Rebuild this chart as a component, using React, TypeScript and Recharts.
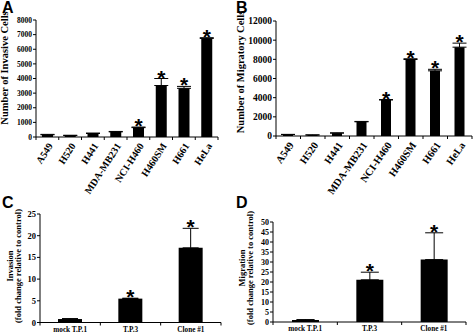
import React from 'react';
import { BarChart, Bar, XAxis, YAxis, ErrorBar, LabelList } from 'recharts';

// ---- data ----
const cellLines = ['A549', 'H520', 'H441', 'MDA-MB231', 'NCI-H460', 'H460SM', 'H661', 'HeLa'];
const invasiveCells = [150, 100, 240, 350, 640, 3520, 3330, 6740];
const invasiveErr = [30, 20, 30, 30, 40, 480, 130, 50];
const invasiveSig = [false, false, false, false, true, true, true, true];
const invasiveTicks = [0, 1000, 2000, 3000, 4000, 5000, 6000, 7000, 8000];

const migratoryCells = [150, 100, 300, 1480, 3760, 7980, 6800, 9270];
const migratoryErr = [20, 20, 30, 40, 40, 80, 160, 420];
const migratorySig = [false, false, false, false, true, true, true, true];
const migratoryTicks = [0, 2000, 4000, 6000, 8000, 10000, 12000];

const clones = ['mock T.P.1', 'T.P.3', 'Clone #1'];
const invasionFold = [0.8, 5.5, 17.2];
const invasionErr = [0.1, 0.1, 4.5];
const invasionTicks = [0, 5, 10, 15, 20, 25];
const migrationFold = [1.0, 21.1, 31.2];
const migrationErr = [0.2, 3.8, 13.4];
const migrationTicks = [0, 5, 10, 15, 20, 25, 30, 35, 40, 45, 50];
const cloneSig = [false, true, true];

const serif = '"Liberation Serif", "Times New Roman", serif';
const sans = '"Liberation Sans", Arial, sans-serif';

function build(cats: string[], vals: number[], errs: number[]) {
  return cats.map((c, i) => ({ name: c, value: vals[i], err: [0, errs[i]] }));
}

function makeStar(vals: number[], errs: number[], sig: boolean[], fontSize: number) {
  return (p: any) => {
    const idx = p.index;
    if (!sig[idx]) return null;
    const x = Number(p.x), y = Number(p.y), w = Number(p.width), h = Number(p.height);
    const ppu = h / vals[idx];
    const top = y - errs[idx] * ppu;
    return (
      <text x={x + w / 2} y={top + 6} textAnchor="middle" fontFamily={sans} fontWeight="bold" fontSize={fontSize} fill="#000">*</text>
    );
  };
}

function halfBand(p: any, count: number) {
  const w = Number(p.width);
  if (w > 0) return w / count / 2;
  return p.payload && p.payload.offset ? Number(p.payload.offset) : 0;
}

function makeRotTick(fontSize: number, angle: number, count: number) {
  return (p: any) => {
    const x = Number(p.x), y = Number(p.y);
    const off = halfBand(p, count);
    const idx = p.index;
    return (
      <g>
        <line x1={x - off} x2={x - off} y1={y} y2={y + 3} stroke="#000" />
        {idx === count - 1 ? <line x1={x + off} x2={x + off} y1={y} y2={y + 3} stroke="#000" /> : null}
        <text x={0} y={0} dy="0.35em" transform={`translate(${x + 3},${y + 7}) rotate(${angle})`} textAnchor="end" fontFamily={serif} fontWeight="bold" fontSize={fontSize} fill="#000">{p.payload.value}</text>
      </g>
    );
  };
}

function makeFlatTick(fontSize: number, count: number) {
  return (p: any) => {
    const x = Number(p.x), y = Number(p.y);
    const off = halfBand(p, count);
    const idx = p.index;
    return (
      <g>
        <line x1={x - off} x2={x - off} y1={y} y2={y + 3} stroke="#000" />
        {idx === count - 1 ? <line x1={x + off} x2={x + off} y1={y} y2={y + 3} stroke="#000" /> : null}
        <text x={0} y={0} transform={`translate(${x},${y + 9}) scale(0.9,1)`} textAnchor="middle" fontFamily={serif} fontWeight="bold" fontSize={fontSize} fill="#000">{p.payload.value}</text>
      </g>
    );
  };
}

type PanelProps = {
  left: number; top: number; width: number; height: number;
  margin: { top: number; right: number; left: number; bottom: number };
  yWidth: number; xHeight: number;
  cats: string[]; vals: number[]; errs: number[]; sig: boolean[];
  ticks: number[]; yFont: number; barSize: number; capWidth: number;
  tick: any; starSize: number;
};

function Panel(pp: PanelProps) {
  const data = build(pp.cats, pp.vals, pp.errs);
  const max = pp.ticks[pp.ticks.length - 1];
  return (
    <div style={{ position: 'absolute', left: pp.left, top: pp.top }}>
      <BarChart width={pp.width} height={pp.height} data={data} margin={pp.margin} barSize={pp.barSize}>
        <XAxis xAxisId="main" dataKey="name" height={pp.xHeight} interval={0} tickLine={false} tickSize={0} tickMargin={0}
          axisLine={{ stroke: '#000' }} tick={pp.tick} />
        <XAxis xAxisId="top" orientation="top" dataKey="name" height={0} tick={false} tickLine={false} axisLine={{ stroke: '#808080' }} />
        <YAxis yAxisId="left" width={pp.yWidth} domain={[0, max]} ticks={pp.ticks} interval={0} tickSize={3} tickMargin={1}
          axisLine={{ stroke: '#000' }} tickLine={{ stroke: '#000' }}
          tick={{ fontSize: pp.yFont, fontFamily: serif, fontWeight: 'bold', fill: '#000' }} />
        <YAxis yAxisId="right" orientation="right" width={0} domain={[0, max]} tick={false} tickLine={false} axisLine={{ stroke: '#808080' }} />
        <Bar xAxisId="main" yAxisId="left" dataKey="value" fill="#000" isAnimationActive={false}>
          <ErrorBar dataKey="err" width={pp.capWidth} stroke="#000" strokeWidth={1} direction="y" />
          <LabelList dataKey="value" content={makeStar(pp.vals, pp.errs, pp.sig, pp.starSize)} />
        </Bar>
      </BarChart>
    </div>
  );
}

function VTitle({ cx, cy, lines, sizes }: { cx: number; cy: number; lines: string[]; sizes: number[] }) {
  return (
    <div style={{
      position: 'absolute', left: cx, top: cy, transform: 'translate(-50%,-50%) rotate(-90deg)',
      whiteSpace: 'nowrap', fontFamily: serif, fontWeight: 'bold', textAlign: 'center', color: '#000',
    }}>
      {lines.map((l, i) => (
        <div key={i} style={{ fontSize: sizes[i], lineHeight: '8px' }}>{l}</div>
      ))}
    </div>
  );
}

function Letter({ x, y, t }: { x: number; y: number; t: string }) {
  return (
    <div style={{ position: 'absolute', left: x, top: y, fontFamily: sans, fontWeight: 'bold', fontSize: 16, lineHeight: '16px', color: '#000' }}>{t}</div>
  );
}

export default function App() {
  return (
    <div style={{ position: 'absolute', left: 0, top: 0, width: 474, height: 333, background: '#fff', overflow: 'hidden' }}>
      <Panel left={0} top={0} width={237} height={200} margin={{ top: 20, right: 19, left: 0, bottom: 0 }}
        yWidth={36} xHeight={63} cats={cellLines} vals={invasiveCells} errs={invasiveErr} sig={invasiveSig}
        ticks={invasiveTicks} yFont={7.5} barSize={11} capWidth={7} starSize={21}
        tick={makeRotTick(10, -57, cellLines.length)} />
      <Panel left={237} top={0} width={237} height={200} margin={{ top: 21, right: 2, left: 0, bottom: 0 }}
        yWidth={39} xHeight={64} cats={cellLines} vals={migratoryCells} errs={migratoryErr} sig={migratorySig}
        ticks={migratoryTicks} yFont={9.5} barSize={10} capWidth={7} starSize={21}
        tick={makeRotTick(10.5, -55, cellLines.length)} />
      <Panel left={0} top={190} width={237} height={143} margin={{ top: 24, right: 16, left: 0, bottom: 0 }}
        yWidth={40} xHeight={10.5} cats={clones} vals={invasionFold} errs={invasionErr} sig={cloneSig}
        ticks={invasionTicks} yFont={8.5} barSize={24} capWidth={8} starSize={21}
        tick={makeFlatTick(8, clones.length)} />
      <Panel left={237} top={190} width={237} height={143} margin={{ top: 32, right: 8, left: 0, bottom: 0 }}
        yWidth={36} xHeight={11} cats={clones} vals={migrationFold} errs={migrationErr} sig={cloneSig}
        ticks={migrationTicks} yFont={8} barSize={27} capWidth={9} starSize={21}
        tick={makeFlatTick(8, clones.length)} />

      <Letter x={2} y={0} t="A" />
      <Letter x={236} y={0} t="B" />
      <Letter x={2} y={195} t="C" />
      <Letter x={236} y={195} t="D" />

      <VTitle cx={5} cy={68} lines={['Number of Invasive Cells']} sizes={[10.5]} />
      <VTitle cx={241} cy={72} lines={['Number of Migratory Cells']} sizes={[10.5]} />
      <VTitle cx={14} cy={266} lines={['Invasion', '(fold change relative to control)']} sizes={[8.5, 8.5]} />
      <VTitle cx={246} cy={268} lines={['Migration', '(fold change relative to control)']} sizes={[8.5, 8.5]} />
    </div>
  );
}
